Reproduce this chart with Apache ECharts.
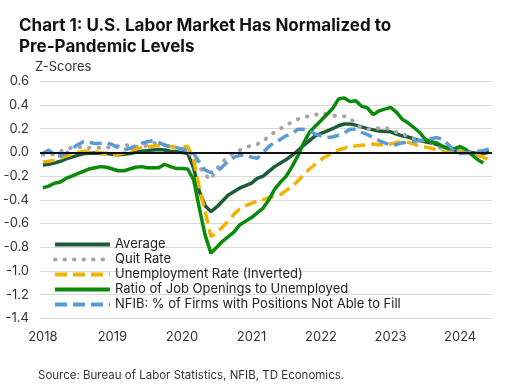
<!DOCTYPE html>
<html>
<head>
<meta charset="utf-8">
<script src="https://cdn.jsdelivr.net/npm/echarts@6/dist/echarts.min.js"></script>
<style>
html,body{margin:0;padding:0;background:#fff;}
#chart{width:516px;height:385px;}
</style>
</head>
<body>
<div id="chart"></div>
<script>
// Monthly categories Jan 2018 – Jun 2024
var months = [];
for (var y = 2018; y <= 2024; y++) {
  for (var m = 1; m <= 12; m++) {
    if (y === 2024 && m > 6) break;
    months.push(y + '-' + (m < 10 ? '0' + m : m));
  }
}
var yTicks = [0.6, 0.4, 0.2, 0.0, -0.2, -0.4, -0.6, -0.8, -1.0, -1.2, -1.4];

var average = [-0.107,-0.10,-0.09,-0.075,-0.055,-0.04,-0.025,-0.012,-0.008,-0.005,-0.01,-0.01,
  -0.015,-0.02,-0.015,-0.01,0.0,0.01,0.015,0.02,0.025,0.02,0.01,0.005,
  0.0,-0.01,-0.13,-0.33,-0.45,-0.50,-0.46,-0.41,-0.36,-0.33,-0.30,-0.28,
  -0.26,-0.22,-0.20,-0.16,-0.12,-0.09,-0.06,-0.025,0.015,0.06,0.10,0.14,
  0.16,0.18,0.20,0.225,0.24,0.24,0.23,0.215,0.20,0.19,0.18,0.177,
  0.174,0.155,0.14,0.13,0.115,0.10,0.09,0.08,0.065,0.05,0.035,0.02,
  0.01,0.005,0.0,-0.01,-0.01,0.0];

var quitRate = [-0.02,-0.02,-0.015,0.01,0.025,0.04,0.045,0.045,0.04,0.04,0.04,0.04,
  0.045,0.055,0.06,0.06,0.05,0.045,0.06,0.08,0.075,0.065,0.053,0.045,
  0.03,0.015,-0.05,-0.12,-0.19,-0.23,-0.14,-0.08,-0.035,-0.005,0.02,0.04,
  0.06,0.07,0.09,0.14,0.17,0.20,0.23,0.255,0.28,0.30,0.305,0.315,
  0.335,0.32,0.31,0.31,0.305,0.29,0.24,0.21,0.195,0.195,0.205,0.21,
  0.19,0.17,0.155,0.135,0.115,0.11,0.10,0.09,0.05,0.03,0.02,0.02,
  0.01,0.0,-0.01,-0.02];

var unemploymentInv = [-0.08,-0.075,-0.065,-0.05,-0.03,-0.015,0.0,0.008,0.013,0.005,-0.003,-0.015,
  -0.02,-0.015,-0.005,0.015,0.03,0.04,0.048,0.053,0.058,0.06,0.05,0.04,
  0.05,0.05,-0.06,-0.30,-0.50,-0.71,-0.68,-0.63,-0.58,-0.52,-0.475,-0.45,
  -0.43,-0.41,-0.40,-0.38,-0.37,-0.355,-0.32,-0.29,-0.24,-0.19,-0.14,-0.10,
  -0.06,-0.03,0.0,0.02,0.035,0.05,0.055,0.06,0.065,0.07,0.065,0.065,
  0.07,0.085,0.09,0.085,0.07,0.055,0.045,0.035,0.02,0.005,0.0,0.01,
  0.02,0.01,-0.005,-0.02,-0.04,-0.065];

var openingsRatio = [-0.30,-0.285,-0.26,-0.25,-0.22,-0.20,-0.18,-0.16,-0.14,-0.13,-0.12,-0.125,
  -0.14,-0.155,-0.155,-0.14,-0.125,-0.12,-0.13,-0.13,-0.13,-0.10,-0.12,-0.135,
  -0.135,-0.14,-0.23,-0.47,-0.70,-0.85,-0.80,-0.75,-0.71,-0.67,-0.61,-0.58,
  -0.55,-0.51,-0.47,-0.40,-0.31,-0.25,-0.20,-0.12,-0.03,0.08,0.17,0.22,
  0.27,0.32,0.37,0.45,0.46,0.43,0.435,0.39,0.375,0.32,0.35,0.365,
  0.38,0.34,0.28,0.25,0.21,0.17,0.11,0.09,0.08,0.05,0.03,0.03,
  0.05,0.025,-0.02,-0.06,-0.09];

var nfib = [-0.01,0.02,-0.02,-0.03,-0.01,0.03,0.065,0.09,0.085,0.075,0.078,0.08,
  0.065,0.04,0.02,0.035,0.055,0.075,0.09,0.10,0.085,0.06,0.05,0.04,
  0.03,0.015,-0.01,-0.08,-0.15,-0.17,-0.165,-0.12,-0.07,-0.04,-0.025,-0.02,
  -0.04,-0.05,0.0,0.05,0.085,0.11,0.14,0.16,0.195,0.195,0.18,0.155,
  0.14,0.125,0.13,0.145,0.165,0.195,0.195,0.17,0.15,0.125,0.10,0.08,
  0.06,0.065,0.08,0.09,0.095,0.10,0.10,0.115,0.125,0.11,0.065,0.005,
  -0.01,-0.005,0.005,0.01,0.015,0.03];

var seriesNames = ['Average','Quit Rate','Unemployment Rate (Inverted)','Ratio of Job Openings to Unemployed','NFIB: % of Firms with Positions Not Able to Fill'];

var chart = echarts.init(document.getElementById('chart'), null, {renderer:'canvas'});
var font = 'Inter, "Open Sans", sans-serif';
chart.setOption({
  animation: false,
  backgroundColor: '#fff',
  title: {
    text: 'Chart 1: U.S. Labor Market Has Normalized to\nPre-Pandemic Levels',
    left: 14, top: 10,
    textStyle: {fontFamily: font, fontWeight: 'bold', fontSize: 17, lineHeight: 21, color: '#111'}
  },
  graphic: [
    {type:'text', left: 35, top: 61, style:{text:'Z-Scores', fontFamily: font, fontSize: 13, fill:'#333'}},
    {type:'text', left: 38, top: 370, style:{text:'Source: Bureau of Labor Statistics, NFIB, TD Economics.', fontFamily: font, fontSize: 11.5, fill:'#333'}}
  ],
  legend: {
    orient: 'vertical', left: 48, top: 233,
    itemWidth: 55, itemHeight: 14, itemGap: 2,
    data: seriesNames,
    itemStyle: {opacity: 0},
    lineStyle: {width: 4},
    textStyle: {fontFamily: font, fontSize: 13, color: '#222'}
  },
  grid: {left: 35, right: 24, top: 81.3, bottom: 66.7, containLabel: false},
  xAxis: {
    type: 'category', data: months, boundaryGap: true,
    axisLine: {show: false}, axisTick: {show: false},
    axisLabel: {
      interval: function(i, v){ return v.slice(5) === '01'; },
      formatter: function(v){ return v.slice(0,4); },
      fontFamily: font, fontSize: 13, color: '#333', margin: 12
    },
    splitLine: {show: false}
  },
  yAxis: {
    type: 'value', min: -1.4, max: 0.6, interval: 0.2,
    axisLine: {show: false}, axisTick: {show: false},
    axisLabel: {formatter: function(v){ return v.toFixed(1); }, fontFamily: font, fontSize: 13, color: '#333', margin: 11},
    splitLine: {lineStyle: {color: '#d9d9d9', width: 1}}
  },
  series: [
    {type:'line', name:'zero', data: [], silent: true, z: 1,
     markLine: {silent: true, symbol: 'none', label:{show:false}, lineStyle:{color:'#111', width:2, type:'solid'}, data:[{yAxis:0}]}},
    {type:'line', name: seriesNames[0], data: average, symbol:'none', z: 3,
     itemStyle:{color:'#1e5b38'}, lineStyle:{color:'#1e5b38', width:3.5}},
    {type:'line', name: seriesNames[1], data: quitRate, symbol:'none', z: 3,
     itemStyle:{color:'#a6a6a6'}, lineStyle:{color:'#a6a6a6', width:4, type:[0.5, 9], cap:'round'}},
    {type:'line', name: seriesNames[2], data: unemploymentInv, symbol:'none', z: 3,
     itemStyle:{color:'#f0b400'}, lineStyle:{color:'#f0b400', width:3.5, type:[12, 6]}},
    {type:'line', name: seriesNames[3], data: openingsRatio, symbol:'none', z: 3,
     itemStyle:{color:'#0a8a0a'}, lineStyle:{color:'#0a8a0a', width:3.5}},
    {type:'line', name: seriesNames[4], data: nfib, symbol:'none', z: 3,
     itemStyle:{color:'#5b9bd5'}, lineStyle:{color:'#5b9bd5', width:3.5, type:[12, 6]}}
  ]
});
</script>
</body>
</html>
